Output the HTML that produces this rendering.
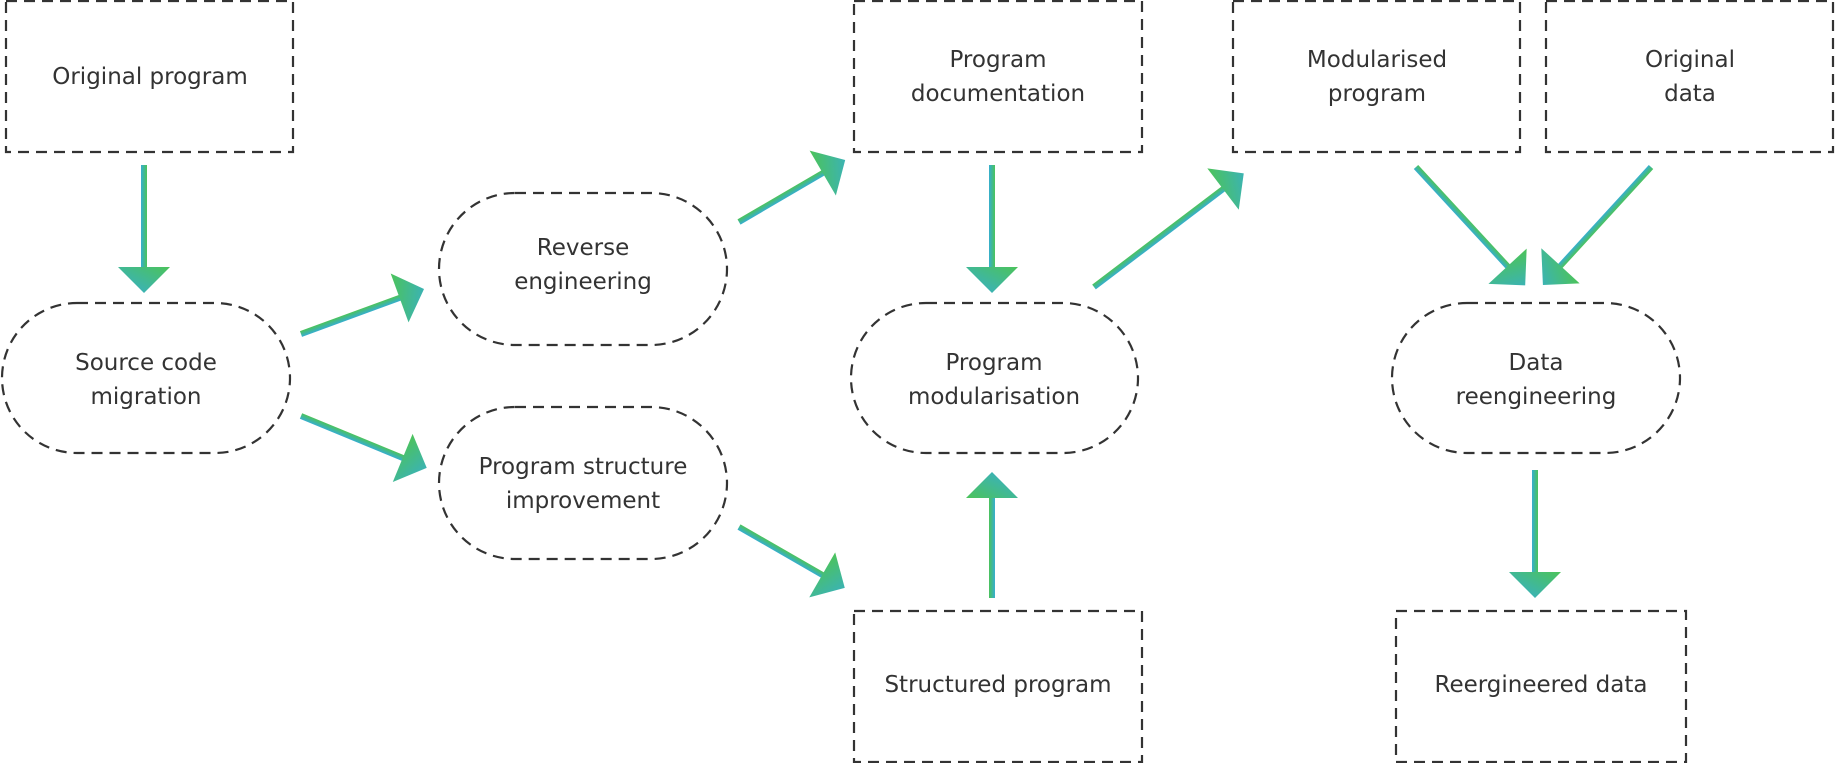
<!DOCTYPE html>
<html><head><meta charset="utf-8"><style>
html,body{margin:0;padding:0;background:#fff;width:1836px;height:763px;overflow:hidden}
svg{display:block}
text{font-family:"DejaVu Sans","Liberation Sans",sans-serif;font-size:23px;fill:#333;text-anchor:middle}
.s{fill:none;stroke:#333;stroke-width:2.2;stroke-dasharray:11 7}
</style></head><body>
<svg width="1836" height="763" viewBox="0 0 1836 763" xmlns="http://www.w3.org/2000/svg">
<defs>
<linearGradient id="gs" gradientUnits="userSpaceOnUse" x1="0" y1="-3" x2="0" y2="3"><stop offset="0" stop-color="#4cc35a"/><stop offset="1" stop-color="#36aed0"/></linearGradient>
<linearGradient id="gh" x1="0" y1="0" x2="1" y2="1"><stop offset="0" stop-color="#4cc35a"/><stop offset="1" stop-color="#36aed0"/></linearGradient>
<g id="head"><polygon points="0,0 -26,-26 -26,26" fill="url(#gh)"/></g>
</defs>

<rect class="s" x="6" y="1" width="287" height="151"/>
<rect class="s" x="854" y="1" width="288" height="151"/>
<rect class="s" x="1233" y="1" width="287" height="151"/>
<rect class="s" x="1546" y="1" width="287" height="151"/>
<rect class="s" x="854" y="611" width="288" height="151"/>
<rect class="s" x="1396" y="611" width="290" height="151"/>

<rect class="s" x="2" y="303" width="288" height="150" rx="75"/>
<rect class="s" x="439" y="193" width="288" height="152" rx="76"/>
<rect class="s" x="439" y="407" width="288" height="152" rx="76"/>
<rect class="s" x="851" y="303" width="287" height="150" rx="75"/>
<rect class="s" x="1392" y="303" width="288" height="150" rx="75"/>

<text x="150" y="84">Original program</text>
<text x="146" y="370">Source code</text><text x="146" y="404">migration</text>
<text x="583" y="255">Reverse</text><text x="583" y="289">engineering</text>
<text x="583" y="474">Program structure</text><text x="583" y="508">improvement</text>
<text x="998" y="67">Program</text><text x="998" y="101">documentation</text>
<text x="994" y="370">Program</text><text x="994" y="404">modularisation</text>
<text x="998" y="692">Structured program</text>
<text x="1377" y="67">Modularised</text><text x="1377" y="101">program</text>
<text x="1690" y="67">Original</text><text x="1690" y="101">data</text>
<text x="1536" y="370">Data</text><text x="1536" y="404">reengineering</text>
<text x="1541" y="692">Reergineered data</text>

<g transform="translate(144,165) rotate(90)"><rect x="0" y="-3" width="104" height="6" fill="url(#gs)"/><use href="#head" x="128"/></g>
<g transform="translate(301,334) rotate(-20.1)"><rect x="0" y="-3" width="107" height="6" fill="url(#gs)"/><use href="#head" x="131"/></g>
<g transform="translate(301,416) rotate(22.4)"><rect x="0" y="-3" width="112" height="6" fill="url(#gs)"/><use href="#head" x="136"/></g>
<g transform="translate(739,222) rotate(-30.3)"><rect x="0" y="-3" width="99" height="6" fill="url(#gs)"/><use href="#head" x="123"/></g>
<g transform="translate(739,527) rotate(29.9)"><rect x="0" y="-3" width="98" height="6" fill="url(#gs)"/><use href="#head" x="122"/></g>
<g transform="translate(992,165) rotate(90)"><rect x="0" y="-3" width="104" height="6" fill="url(#gs)"/><use href="#head" x="128"/></g>
<g transform="translate(992,598) rotate(-90)"><rect x="0" y="-3" width="102" height="6" fill="url(#gs)"/><use href="#head" x="126"/></g>
<g transform="translate(1094,287) rotate(-37.2)"><rect x="0" y="-3" width="164" height="6" fill="url(#gs)"/><use href="#head" x="188"/></g>
<g transform="translate(1416,167) rotate(47.3)"><rect x="0" y="-3" width="137" height="6" fill="url(#gs)"/><use href="#head" x="161"/></g>
<g transform="translate(1651,167) rotate(132.5)"><rect x="0" y="-3" width="136" height="6" fill="url(#gs)"/><use href="#head" x="160"/></g>
<g transform="translate(1535,470) rotate(90)"><rect x="0" y="-3" width="104" height="6" fill="url(#gs)"/><use href="#head" x="128"/></g>
</svg>
</body></html>
